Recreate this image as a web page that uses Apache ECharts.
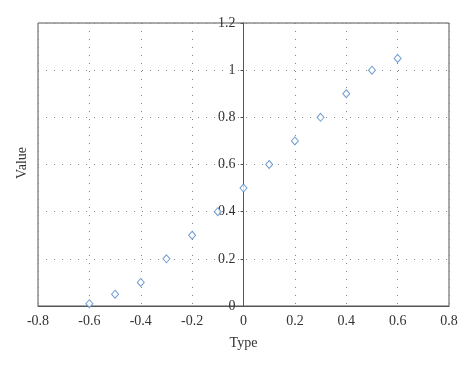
<!DOCTYPE html>
<html>
<head>
<meta charset="utf-8">
<script src="https://cdn.jsdelivr.net/npm/echarts@6/dist/echarts.min.js"></script>
<style>
  html, body { margin: 0; padding: 0; background: #fff; }
  #chart { width: 474px; height: 366px; }
</style>
</head>
<body>
<div id="chart"></div>
<script>
// values
const typeValues = [-0.6, -0.5, -0.4, -0.3, -0.2, -0.1, 0, 0.1, 0.2, 0.3, 0.4, 0.5, 0.6]
const valueValues = [0.01, 0.05, 0.1, 0.2, 0.3, 0.4, 0.5, 0.6, 0.7, 0.8, 0.9, 1.0, 1.05]

const points = typeValues.map((t, i) => [t, valueValues[i]])

const font = 'Liberation Serif'
const gridLeft = 38
const gridRight = 25
// y axis sits on Type = 0, i.e. the middle of the plot
const yOffset = -(474 - gridLeft - gridRight) / 2

const myChart = echarts.init(document.getElementById('chart'))
const option = {
  backgroundColor: '#FFFFFF',
  animation: false,
  grid: {
    left: gridLeft,
    right: gridRight,
    top: 23,
    bottom: 60,
    show: true,
    borderColor: '#555',
    borderWidth: 1
  },
  xAxis: {
    type: 'value',
    min: -0.8,
    max: 0.8,
    interval: 0.2,
    name: 'Type',
    nameLocation: 'middle',
    nameGap: 30,
    nameTextStyle: { fontFamily: font, fontSize: 14, color: '#333' },
    axisLine: { onZero: false, lineStyle: { color: '#555' } },
    axisTick: { show: false },
    axisLabel: {
      fontFamily: font, fontSize: 14, color: '#333', margin: 8,
      formatter: v => String(Math.round(v * 10) / 10)
    },
    splitLine: { show: true, lineStyle: { type: [1, 7], color: '#888' } }
  },
  yAxis: {
    type: 'value',
    min: 0,
    max: 1.2,
    interval: 0.2,
    offset: yOffset,
    axisLine: { show: true, onZero: false, lineStyle: { color: '#555' } },
    axisTick: { show: true, length: 3, lineStyle: { color: '#555' } },
    axisLabel: {
      fontFamily: font, fontSize: 14, color: '#333', margin: 8,
      formatter: v => String(Math.round(v * 10) / 10)
    },
    splitLine: { show: true, lineStyle: { type: [1, 7], color: '#888' } }
  },
  graphic: [{
    type: 'text',
    left: 15,
    top: 147,
    rotation: Math.PI / 2,
    style: { text: 'Value', fontFamily: font, fontSize: 14, fill: '#333' }
  }],
  series: [{
    type: 'scatter',
    data: points,
    symbol: 'diamond',
    symbolSize: [7, 8],
    itemStyle: { color: '#fff', borderColor: '#4f86c6', borderWidth: 1 }
  }]
}
myChart.setOption(option)
window.addEventListener('resize', function() {
  myChart.resize()
})
</script>
</body>
</html>
